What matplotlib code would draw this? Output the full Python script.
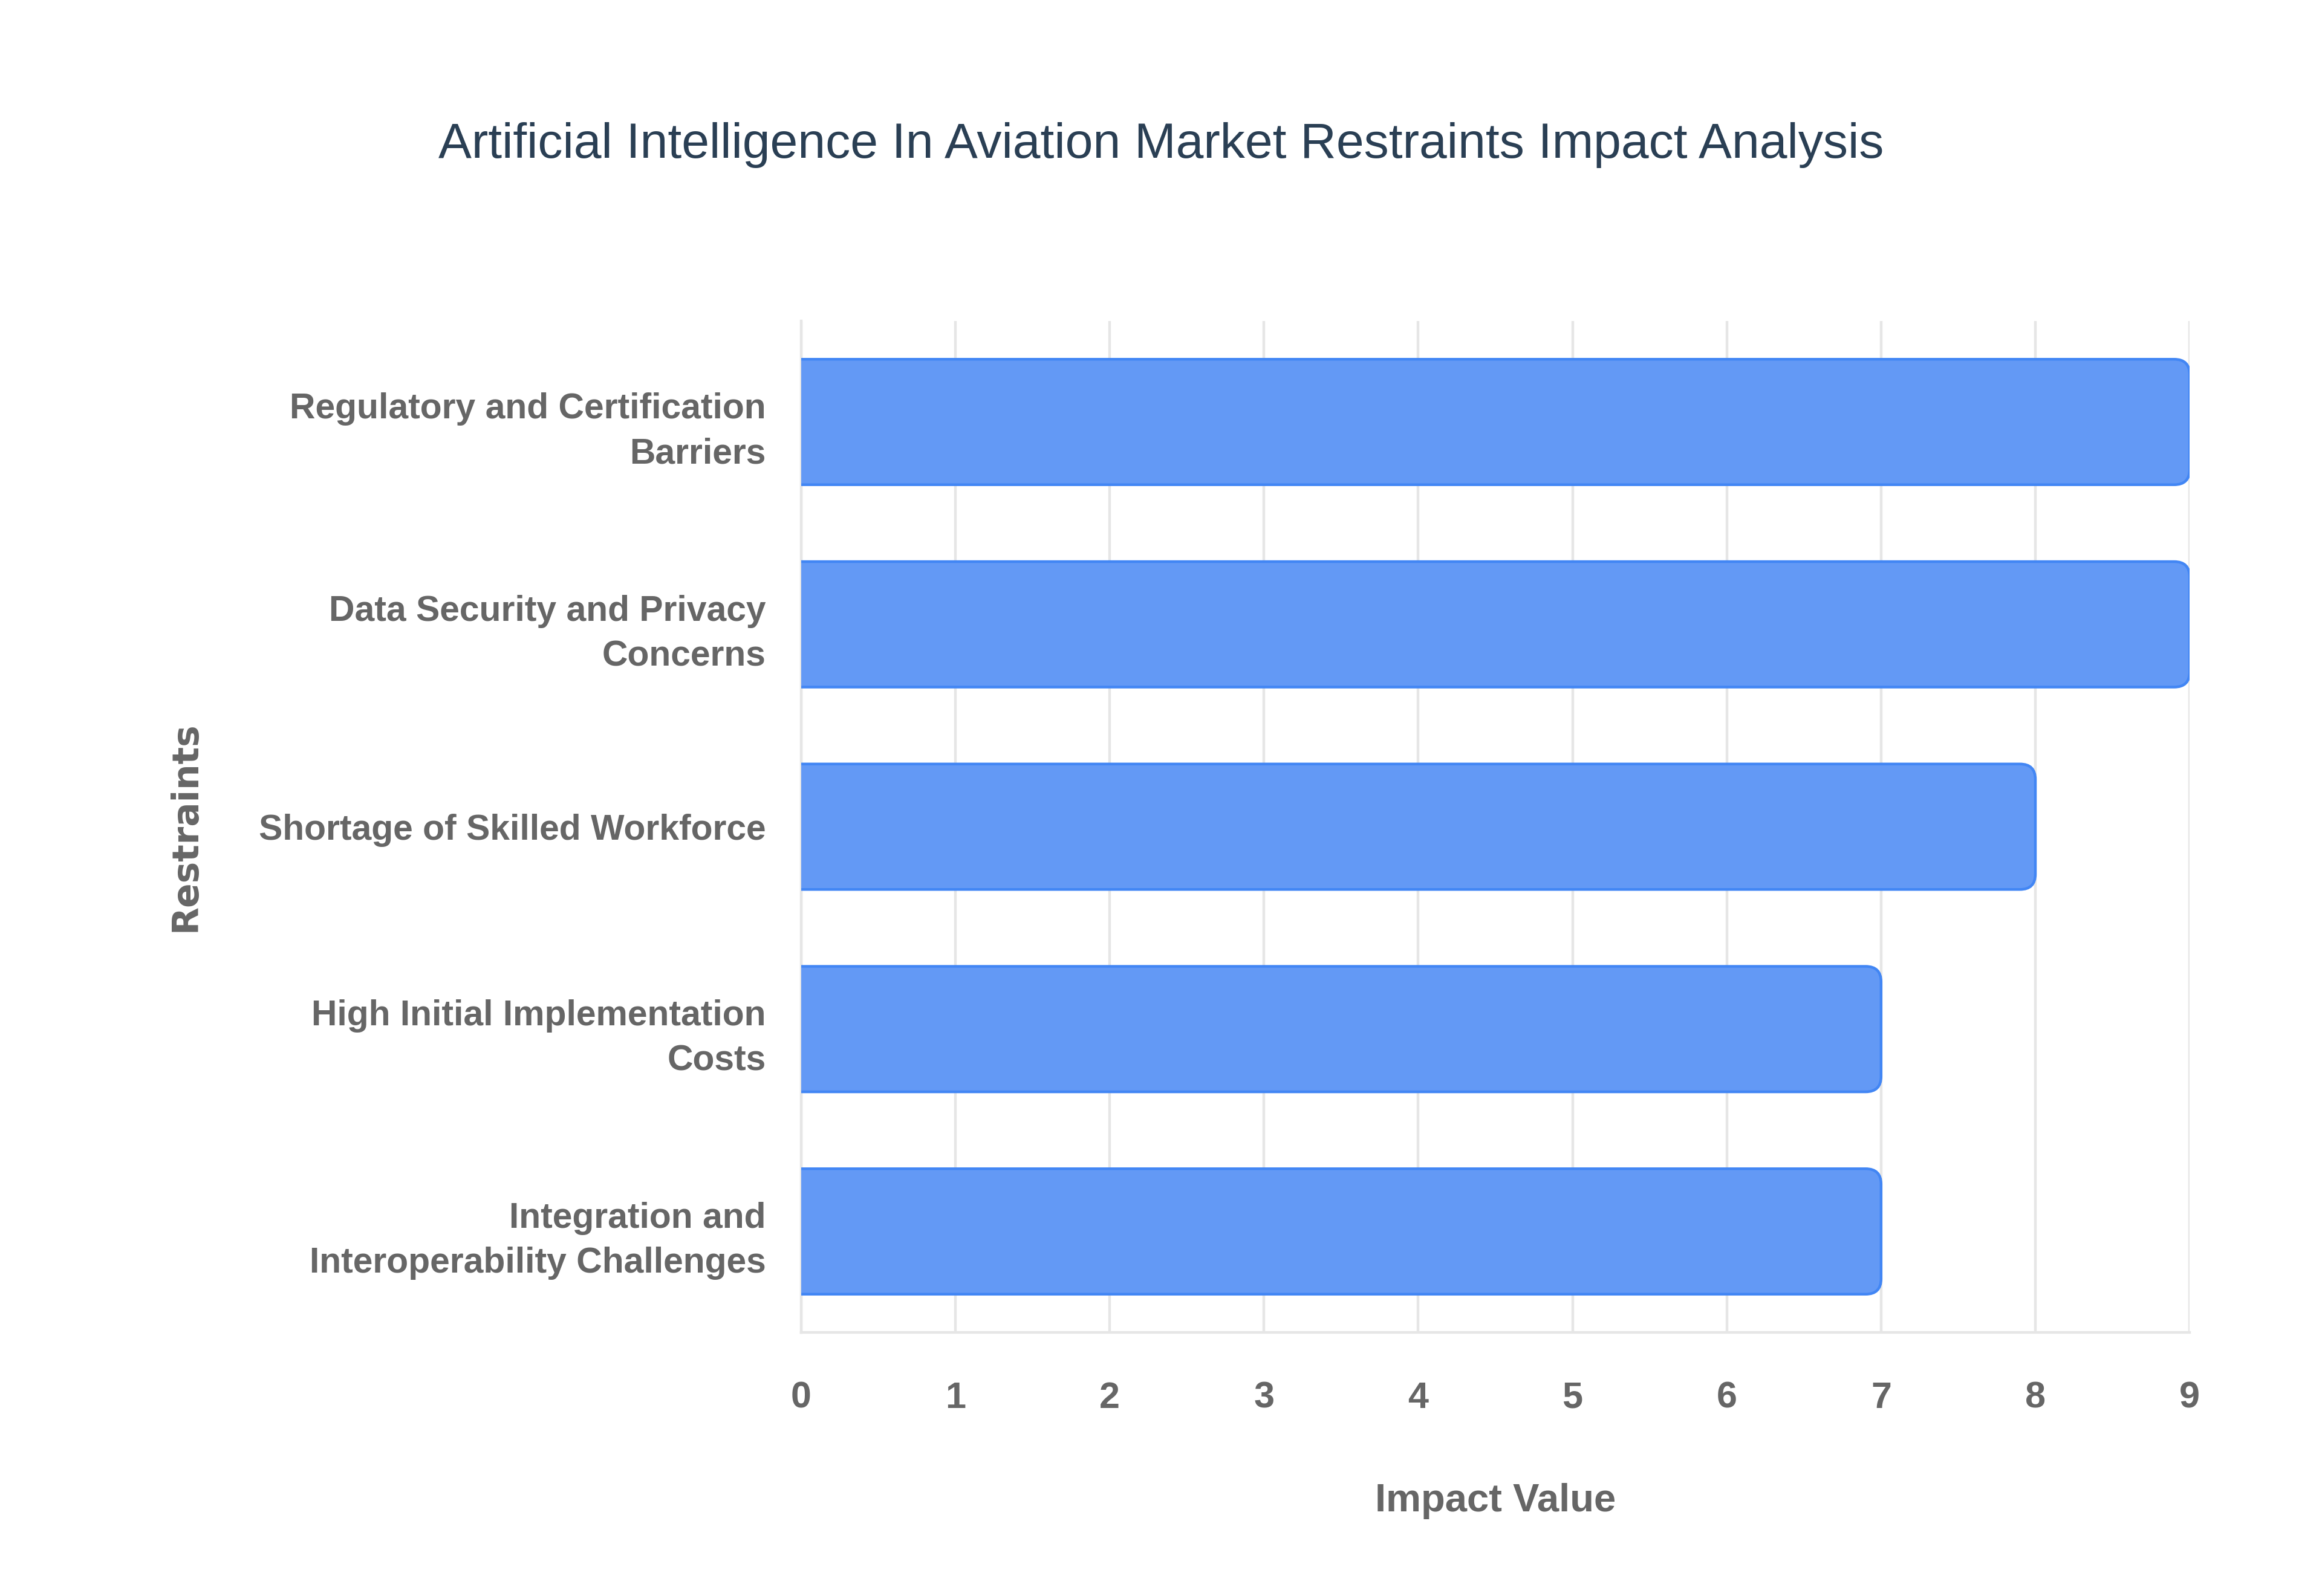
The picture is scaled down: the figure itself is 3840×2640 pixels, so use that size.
import matplotlib
matplotlib.use("Agg")
import matplotlib.pyplot as plt
from matplotlib.patches import FancyBboxPatch
from matplotlib import font_manager

# Data
restraints = [
    "Regulatory and Certification\nBarriers",
    "Data Security and Privacy\nConcerns",
    "Shortage of Skilled Workforce",
    "High Initial Implementation\nCosts",
    "Integration and\nInteroperability Challenges",
]
impact = [9, 9, 8, 7, 7]
xticks = [0, 1, 2, 3, 4, 5, 6, 7, 8, 9]

names = {f.name for f in font_manager.fontManager.ttflist}
narrow = "Liberation Sans Narrow" if "Liberation Sans Narrow" in names else "Liberation Sans"

bar_fill = "#6399f5"
bar_edge = "#4286f4"
label_col = "#666666"

fig = plt.figure(figsize=(19.2, 13.2), dpi=200)
ax = fig.add_axes([0.345, 0.165, 0.598, 0.634])

n = len(restraints)
ypos = list(range(n))[::-1]  # first category at top
bar_h = 0.62

for y, v in zip(ypos, impact):
    # start left of zero so the rounded left corners are clipped by the axes
    p = FancyBboxPatch((-0.3, y - bar_h / 2), v + 0.3, bar_h,
                       boxstyle="round,pad=0,rounding_size=0.1",
                       mutation_aspect=0.76,
                       facecolor=bar_fill, edgecolor=bar_edge, linewidth=1.6,
                       zorder=3)
    ax.add_patch(p)

ax.set_xlim(0, 9)
ax.set_ylim(-0.5, n - 0.5)
ax.set_xticks(xticks)
ax.set_yticks(ypos)
ax.set_yticklabels(restraints)

ax.grid(axis="x", color="#e6e6e6", linewidth=1.6, zorder=0)
for s in ["top", "right"]:
    ax.spines[s].set_visible(False)
for s in ["left", "bottom"]:
    ax.spines[s].set_color("#e6e6e6")
    ax.spines[s].set_linewidth(1.6)
ax.tick_params(length=0)
ax.tick_params(axis="y", pad=21)
ax.tick_params(axis="x", pad=29)

for lbl in ax.get_yticklabels():
    lbl.set_family(narrow)
    lbl.set_fontweight("bold")
    lbl.set_fontsize(21.2)
    lbl.set_color(label_col)
    lbl.set_linespacing(1.45)
for lbl in ax.get_xticklabels():
    lbl.set_family(narrow)
    lbl.set_fontweight("bold")
    lbl.set_fontsize(22)
    lbl.set_color(label_col)

ax.set_xlabel("Impact Value", family=narrow, fontweight="bold", fontsize=23.5,
              color=label_col, labelpad=40)
fig.text(0.08, 0.482, "Restraints", rotation=90, ha="center", va="center",
         family="DejaVu Sans", fontweight="bold", fontsize=21.5, color=label_col)

fig.text(0.5, 0.909, "Artificial Intelligence In Aviation Market Restraints Impact Analysis",
         ha="center", va="center", family=narrow, fontsize=29.6, color="#2a3f54")

fig.savefig("out.png", dpi=200, facecolor="white")
